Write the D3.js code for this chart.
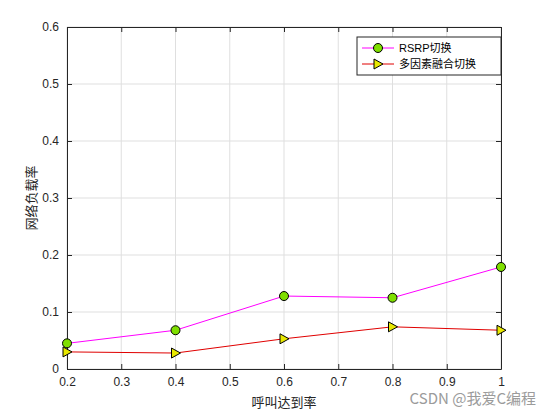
<!DOCTYPE html>
<html>
<head>
<meta charset="utf-8">
<script src="https://cdn.jsdelivr.net/npm/d3@7"></script>
<style>
body { margin: 0; background: #fff; }
svg { font-family: "Liberation Sans", Arial, sans-serif; }
.axis text { font-size: 12px; fill: #262626; }
.axis path, .axis line { stroke: #262626; }
</style>
</head>
<body>
<svg width="550" height="413"></svg>
<script>
var xs = [0.2, 0.4, 0.6, 0.8, 1.0];
var rsrp = [0.045, 0.068, 0.128, 0.125, 0.179];
var multi = [0.030, 0.028, 0.053, 0.074, 0.068];
var xTicks = [0.2, 0.3, 0.4, 0.5, 0.6, 0.7, 0.8, 0.9, 1];
var yTicks = [0, 0.1, 0.2, 0.3, 0.4, 0.5, 0.6];

var svg = d3.select("svg"),
    margin = {top: 27, right: 49, bottom: 44, left: 67},
    width = 550 - margin.left - margin.right,
    height = 413 - margin.top - margin.bottom;

var x = d3.scaleLinear().domain([0.2, 1]).range([0, width]),
    y = d3.scaleLinear().domain([0, 0.6]).range([height, 0]);

var g = svg.append("g").attr("transform", "translate(" + margin.left + "," + margin.top + ")");

g.append("rect").attr("width", width).attr("height", height).attr("fill", "#fff");

// grid
g.selectAll(".gx").data(xTicks).enter().append("line")
    .attr("x1", d => x(d)).attr("x2", d => x(d)).attr("y1", 0).attr("y2", height)
    .attr("stroke", "#dfdfdf");
g.selectAll(".gy").data(yTicks).enter().append("line")
    .attr("y1", d => y(d)).attr("y2", d => y(d)).attr("x1", 0).attr("x2", width)
    .attr("stroke", "#dfdfdf");

g.append("g").attr("class", "axis").attr("transform", "translate(0," + height + ")")
    .call(d3.axisBottom(x).tickValues(xTicks).tickSizeInner(-5).tickSizeOuter(0).tickPadding(8).tickFormat(d3.format("")));
g.append("g").attr("class", "axis")
    .call(d3.axisLeft(y).tickValues(yTicks).tickSizeInner(-5).tickSizeOuter(0).tickPadding(8).tickFormat(d3.format("")));
g.append("g").attr("class", "axis").attr("transform", "translate(" + width + ",0)")
    .call(d3.axisRight(y).tickValues(yTicks).tickSizeInner(-5).tickSizeOuter(0).tickFormat(""));
g.append("g").attr("class", "axis")
    .call(d3.axisTop(x).tickValues(xTicks).tickSizeInner(-5).tickSizeOuter(0).tickFormat(""));

var line = d3.line().x(d => x(d[0])).y(d => y(d[1]));
var d1 = xs.map((v, i) => [v, rsrp[i]]);
var d2 = xs.map((v, i) => [v, multi[i]]);

g.append("path").datum(d1).attr("d", line).attr("fill", "none").attr("stroke", "#ff00ff").attr("stroke-width", 1);
g.append("path").datum(d2).attr("d", line).attr("fill", "none").attr("stroke", "#e00000").attr("stroke-width", 1);

function tri(cx, cy) {
    return "M" + (cx - 4) + "," + (cy - 5) + "L" + (cx + 5) + "," + cy + "L" + (cx - 4) + "," + (cy + 5) + "Z";
}
g.selectAll(".c1").data(d1).enter().append("circle")
    .attr("cx", d => x(d[0])).attr("cy", d => y(d[1])).attr("r", 4.5)
    .attr("fill", "#7fdf00").attr("stroke", "#000");
g.selectAll(".t2").data(d2).enter().append("path")
    .attr("d", d => tri(x(d[0]), y(d[1])))
    .attr("fill", "#e8e800").attr("stroke", "#000");

// legend
var lg = svg.append("g").attr("transform", "translate(357,37)");
lg.append("rect").attr("width", 144).attr("height", 38).attr("fill", "#fff").attr("stroke", "#262626");
lg.append("line").attr("x1", 5).attr("x2", 37).attr("y1", 11).attr("y2", 11).attr("stroke", "#ff00ff");
lg.append("circle").attr("cx", 21).attr("cy", 11).attr("r", 4.5).attr("fill", "#7fdf00").attr("stroke", "#000");
lg.append("text").attr("x", 42).attr("y", 15).attr("font-size", 11).text("RSRP切换")
    .style("font-family", "'Liberation Sans','Noto Sans CJK SC',sans-serif");
lg.append("line").attr("x1", 5).attr("x2", 37).attr("y1", 27).attr("y2", 27).attr("stroke", "#e00000");
lg.append("path").attr("d", tri(21, 27)).attr("fill", "#e8e800").attr("stroke", "#000");
lg.append("text").attr("x", 42).attr("y", 31).attr("font-size", 11).text("多因素融合切换")
    .style("font-family", "'Noto Sans CJK SC',sans-serif");

svg.append("text").attr("x", margin.left + width / 2).attr("y", 407).attr("text-anchor", "middle")
    .attr("font-size", 13).style("font-family", "'Noto Sans CJK SC',serif").attr("fill", "#262626").text("呼叫达到率");
svg.append("text").attr("transform", "translate(36," + (margin.top + height / 2) + ") rotate(-90)")
    .attr("text-anchor", "middle").attr("font-size", 13).style("font-family", "'Noto Sans CJK SC',serif")
    .attr("fill", "#262626").text("网络负载率");

svg.append("text").attr("x", 536).attr("y", 404).attr("text-anchor", "end").attr("font-size", 15)
    .style("font-family", "'Noto Sans CJK SC',sans-serif").attr("fill", "#8a8a8a").attr("opacity", 0.85)
    .text("CSDN @我爱C编程");
</script>
</body>
</html>
